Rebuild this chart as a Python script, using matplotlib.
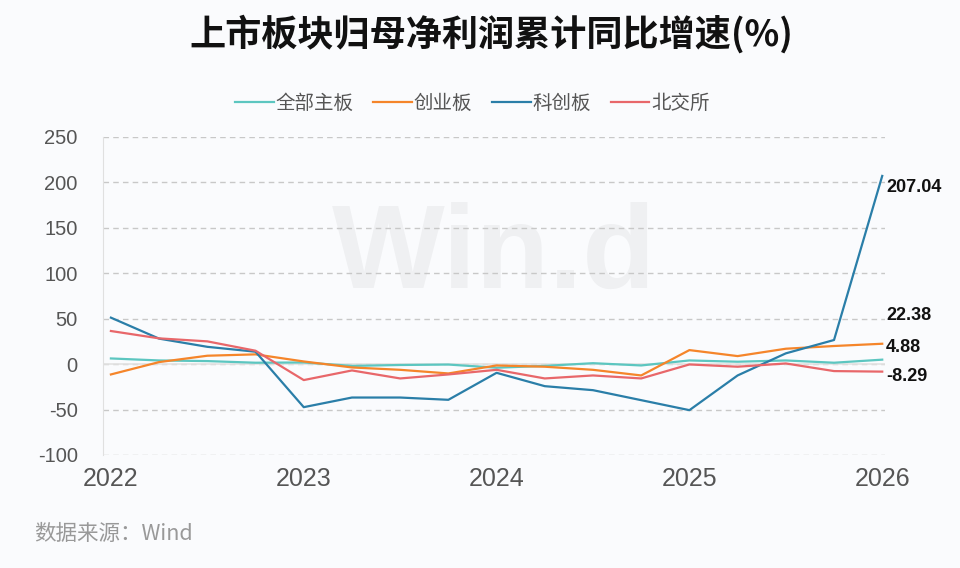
import matplotlib.pyplot as plt
import numpy as np

plt.rcParams['font.family'] = ['Liberation Sans', 'Noto Sans CJK SC', 'DejaVu Sans']
plt.rcParams['axes.unicode_minus'] = False

# quarterly points, 2022 .. 2026 (17 points)
years = ['2022', '2023', '2024', '2025', '2026']
main_board = [6.2, 4.0, 3.3, 1.5, 1.8, -2.0, -1.0, -0.5, -4.0,
              -2.0, 1.0, -1.5, 4.0, 2.6, 4.0, 1.5, 4.88]
chinext = [-11.4, 2.2, 9.2, 10.7, 2.9, -3.7, -6.3, -10.3, -1.5,
           -2.9, -6.3, -12.5, 15.4, 8.8, 16.9, 19.9, 22.38]
star = [51.1, 28.0, 19.0, 13.6, -47.4, -36.8, -36.8, -39.3, -9.6,
        -24.3, -28.7, -39.7, -50.7, -12.5, 11.8, 26.5, 207.04]
bse = [36.4, 28.3, 25.0, 14.7, -17.6, -7.0, -15.8, -11.4, -6.3,
       -15.8, -12.5, -15.8, -0.4, -2.9, 0.7, -7.7, -8.29]
names = ['全部主板', '创业板', '科创板', '北交所']
colors = ['#5cc6c0', '#f5852a', '#2a7ea8', '#e8676a']
end_labels = ['4.88', '22.38', '207.04', '-8.29']
label_y = [18, 53, 194, -14]   # shifted to keep end labels apart

bg = '#fafbfd'
fig = plt.figure(figsize=(9.6, 5.68), dpi=100, facecolor=bg)
ax = fig.add_axes([0.107, 0.199, 0.815, 0.560], facecolor=bg)

x = np.arange(len(star))
for vals, name, c in zip([main_board, chinext, star, bse], names, colors):
    ax.plot(x, vals, color=c, lw=1.6, label=name, zorder=3)

for vals, txt, ly in zip([main_board, chinext, star, bse], end_labels, label_y):
    ax.text(x[-1] + 0.08, ly, txt, fontsize=13, fontweight='bold',
            color='#111111', va='center', ha='left')

ax.set_xlim(-0.17, 16.06)
ax.set_ylim(-100, 250)
ax.set_yticks(np.arange(-100, 251, 50))
ax.set_xticks(np.arange(0, 17, 4))
ax.set_xticklabels(years)
ax.yaxis.grid(True, ls=(0, (4, 3)), color='#c8c8c8', lw=1)
ax.axhline(0, color='#e2e2e2', lw=1.2, zorder=1)
for s in ['top', 'right', 'bottom']:
    ax.spines[s].set_visible(False)
ax.spines['left'].set_color('#e0e0e0')
ax.tick_params(axis='y', length=0, labelsize=14.5, labelcolor='#555555', pad=18)
ax.tick_params(axis='x', length=0, labelsize=18, labelcolor='#555555', pad=9)
ax.set_axisbelow(True)

# faint watermark
ax.text(0.50, 0.62, 'Win.d', transform=ax.transAxes, fontsize=86,
        fontweight='bold', color='#000000', alpha=0.045, ha='center', va='center',
        zorder=0)

fig.text(0.512, 0.94, '上市板块归母净利润累计同比增速(%)', fontsize=26,
         fontweight='bold', ha='center', va='center',
         family=['Noto Sans CJK SC', 'DejaVu Sans'], color='#111111')

leg = fig.legend(loc='center', bbox_to_anchor=(0.492, 0.818), ncol=4, frameon=False,
                 handlelength=2.0, handletextpad=0.1, columnspacing=1.0,
                 prop={'family': 'Noto Sans CJK SC', 'size': 14})
for t in leg.get_texts():
    t.set_color('#555555')

fig.text(0.036, 0.06, '数据来源：Wind', fontsize=15.5, color='#999999',
         family=['Noto Sans CJK SC', 'DejaVu Sans'], va='center')

fig.savefig('out.png', dpi=100, facecolor=bg)
